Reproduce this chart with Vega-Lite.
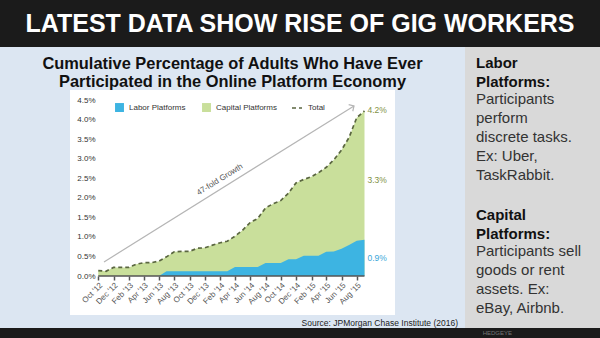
{
  "$schema": "https://vega.github.io/schema/vega-lite/v6.json",
  "background": "#dce6f2",
  "padding": 0,
  "spacing": 0,
  "config": {
    "view": {"stroke": null},
    "font": "Liberation Sans",
    "concat": {"spacing": 0},
    "axis": {"labelOverlap": false},
    "title": {"font": "Liberation Sans", "subtitleFont": "Liberation Sans"}
  },
  "datasets": {
    "platform": [
      {"month": "2012/10/01", "labor": 0, "total": 0.14},
      {"month": "2012/11/01", "labor": 0, "total": 0.12},
      {"month": "2012/12/01", "labor": 0, "total": 0.22},
      {"month": "2013/01/01", "labor": 0, "total": 0.22},
      {"month": "2013/02/01", "labor": 0, "total": 0.22},
      {"month": "2013/03/01", "labor": 0, "total": 0.30},
      {"month": "2013/04/01", "labor": 0, "total": 0.34},
      {"month": "2013/05/01", "labor": 0, "total": 0.34},
      {"month": "2013/06/01", "labor": 0, "total": 0.38},
      {"month": "2013/07/01", "labor": 0.12, "total": 0.49},
      {"month": "2013/08/01", "labor": 0.12, "total": 0.62},
      {"month": "2013/09/01", "labor": 0.12, "total": 0.63},
      {"month": "2013/10/01", "labor": 0.12, "total": 0.63},
      {"month": "2013/11/01", "labor": 0.12, "total": 0.71},
      {"month": "2013/12/01", "labor": 0.12, "total": 0.72},
      {"month": "2014/01/01", "labor": 0.12, "total": 0.79},
      {"month": "2014/02/01", "labor": 0.12, "total": 0.85},
      {"month": "2014/03/01", "labor": 0.12, "total": 0.89},
      {"month": "2014/04/01", "labor": 0.23, "total": 1.02},
      {"month": "2014/05/01", "labor": 0.23, "total": 1.17},
      {"month": "2014/06/01", "labor": 0.23, "total": 1.37},
      {"month": "2014/07/01", "labor": 0.23, "total": 1.47},
      {"month": "2014/08/01", "labor": 0.33, "total": 1.74},
      {"month": "2014/09/01", "labor": 0.33, "total": 1.85},
      {"month": "2014/10/01", "labor": 0.33, "total": 1.93},
      {"month": "2014/11/01", "labor": 0.43, "total": 2.12},
      {"month": "2014/12/01", "labor": 0.43, "total": 2.38},
      {"month": "2015/01/01", "labor": 0.52, "total": 2.47},
      {"month": "2015/02/01", "labor": 0.52, "total": 2.54},
      {"month": "2015/03/01", "labor": 0.52, "total": 2.64},
      {"month": "2015/04/01", "labor": 0.62, "total": 2.78},
      {"month": "2015/05/01", "labor": 0.63, "total": 2.97},
      {"month": "2015/06/01", "labor": 0.70, "total": 3.22},
      {"month": "2015/07/01", "labor": 0.79, "total": 3.54},
      {"month": "2015/08/01", "labor": 0.90, "total": 4.05},
      {"month": "2015/09/01", "labor": 0.93, "total": 4.22}
    ],
    "arrow": [
      {"from": "2012/10/24", "to": "2015/07/21", "low": 0.36, "high": 4.35}
    ],
    "arrowLabel": [
      {"month": "2014/01/31", "pct": 2.46, "text": "47-fold Growth"}
    ],
    "endLabels": [
      {"month": "2015/09/01", "pct": 4.25, "text": "4.2%", "group": "total"},
      {"month": "2015/09/01", "pct": 2.46, "text": "3.3%", "group": "capital"},
      {"month": "2015/09/01", "pct": 0.46, "text": "0.9%", "group": "labor"}
    ]
  },
  "vconcat": [
    {
      "width": 600,
      "height": 47,
      "view": {"fill": "#1b1b1b"},
      "data": {"values": [{"headline": "LATEST DATA SHOW RISE OF GIG WORKERS"}]},
      "mark": {"type": "text", "color": "#ffffff", "fontSize": 25, "fontWeight": "bold", "align": "center", "baseline": "middle"},
      "encoding": {"text": {"field": "headline"}}
    },
    {
      "spacing": 0,
      "hconcat": [
        {
          "spacing": 0,
          "center": true,
          "vconcat": [
            {
              "width": 465,
              "height": 43,
              "data": {"values": [{"heading": "Cumulative Percentage of Adults Who Have Ever\nParticipated in the Online Platform Economy"}]},
              "mark": {"type": "text", "fontSize": 16.4, "fontWeight": "bold", "color": "#111111", "lineHeight": 17.5, "lineBreak": "\n", "align": "center", "baseline": "middle", "dy": -4.5},
              "encoding": {"text": {"field": "heading"}}
            },
            {
              "width": 325,
              "height": 225,
              "view": {"fill": "#ffffff"},
              "layer": [
                {
                  "data": {"name": "platform"},
                  "mark": {"type": "area", "opacity": 1},
                  "encoding": {
                    "x": {
                      "field": "month", "type": "temporal", "title": null,
                      "scale": {"domain": [{"year": 2012, "month": 6, "date": 10}, {"year": 2016, "month": 1, "date": 1}]},
                      "axis": {
                        "orient": "bottom", "offset": -39, "format": "%b '%y", "labelAngle": -45, "tickCount": 40,
                        "values": [
                          {"year": 2012, "month": 10, "date": 1}, {"year": 2012, "month": 12, "date": 1},
                          {"year": 2013, "month": 2, "date": 1}, {"year": 2013, "month": 4, "date": 1},
                          {"year": 2013, "month": 6, "date": 1}, {"year": 2013, "month": 8, "date": 1},
                          {"year": 2013, "month": 10, "date": 1}, {"year": 2013, "month": 12, "date": 1},
                          {"year": 2014, "month": 2, "date": 1}, {"year": 2014, "month": 4, "date": 1},
                          {"year": 2014, "month": 6, "date": 1}, {"year": 2014, "month": 8, "date": 1},
                          {"year": 2014, "month": 10, "date": 1}, {"year": 2014, "month": 12, "date": 1},
                          {"year": 2015, "month": 2, "date": 1}, {"year": 2015, "month": 4, "date": 1},
                          {"year": 2015, "month": 6, "date": 1}, {"year": 2015, "month": 8, "date": 1}
                        ],
                        "domain": false, "grid": false, "ticks": true, "tickSize": 4, "tickColor": "#555555", "tickWidth": 1.5,
                        "labelFontSize": 8, "labelColor": "#555555", "labelPadding": 1,
                        "labelOverlap": false, "labelBound": false, "labelFlush": false
                      }
                    },
                    "y": {
                      "field": "total", "type": "quantitative", "title": null,
                      "scale": {"domain": [-0.997, 4.757], "nice": false, "zero": false},
                      "axis": {
                        "orient": "left", "offset": -27, "tickCount": 20, "values": [0, 0.5, 1, 1.5, 2, 2.5, 3, 3.5, 4, 4.5],
                        "labelExpr": "format(datum.value, '.1f') + '%'",
                        "domain": false, "ticks": false, "tickSize": 0, "grid": false,
                        "labelFontSize": 8, "labelColor": "#333333", "labelPadding": 2,
                        "labelOverlap": false, "labelBound": false, "labelFlush": false
                      }
                    },
                    "color": {
                      "datum": "Capital Platforms",
                      "scale": {"domain": ["Labor Platforms", "Capital Platforms"], "range": ["#3db4e2", "#c9df9b"]},
                      "legend": {
                        "orient": "none", "legendX": 114, "legendY": 102, "direction": "horizontal", "title": null,
                        "symbolType": "square", "symbolSize": 80, "symbolOpacity": 1, "labelFontSize": 8, "labelColor": "#333333",
                        "columnPadding": 15, "labelOffset": 4
                      }
                    }
                  }
                },
                {
                  "data": {"name": "platform"},
                  "mark": {"type": "area", "opacity": 1},
                  "encoding": {
                    "x": {"field": "month", "type": "temporal", "title": null},
                    "y": {"field": "labor", "type": "quantitative", "title": null},
                    "color": {"datum": "Labor Platforms"}
                  }
                },
                {
                  "data": {"name": "platform"},
                  "mark": {"type": "rule", "color": "#555555", "strokeWidth": 1.5},
                  "encoding": {
                    "x": {"aggregate": "min", "field": "month", "type": "temporal", "title": null},
                    "x2": {"aggregate": "max", "field": "month"},
                    "y": {"datum": 0}
                  }
                },
                {
                  "data": {"name": "platform"},
                  "mark": {"type": "line", "strokeWidth": 1.7, "color": "#5a6640"},
                  "encoding": {
                    "x": {"field": "month", "type": "temporal", "title": null},
                    "y": {"field": "total", "type": "quantitative", "title": null},
                    "strokeDash": {
                      "datum": "Total",
                      "scale": {"domain": ["Total"], "range": [[4, 3]]},
                      "legend": {
                        "orient": "none", "legendX": 291, "legendY": 102, "title": null,
                        "symbolType": "stroke", "symbolSize": 100, "symbolStrokeColor": "#5a6640", "symbolStrokeWidth": 1.6,
                        "labelFontSize": 8, "labelColor": "#333333", "labelOffset": 5
                      }
                    }
                  }
                },
                {
                  "data": {"name": "arrow"},
                  "mark": {"type": "rule", "color": "#b5b5b5", "strokeWidth": 1.2},
                  "encoding": {
                    "x": {"field": "from", "type": "temporal", "title": null},
                    "x2": {"field": "to"},
                    "y": {"field": "low", "type": "quantitative", "title": null},
                    "y2": {"field": "high"}
                  }
                },
                {
                  "data": {"name": "arrow"},
                  "mark": {"type": "point", "shape": "M-1,-1L0,0L-1,1", "filled": false, "stroke": "#b5b5b5", "strokeWidth": 1.2, "size": 60, "angle": 328, "opacity": 1},
                  "encoding": {
                    "x": {"field": "to", "type": "temporal", "title": null},
                    "y": {"field": "high", "type": "quantitative", "title": null}
                  }
                },
                {
                  "data": {"name": "arrowLabel"},
                  "mark": {"type": "text", "angle": 328, "fontSize": 8, "color": "#555555", "baseline": "middle", "align": "center"},
                  "encoding": {
                    "x": {"field": "month", "type": "temporal", "title": null},
                    "y": {"field": "pct", "type": "quantitative", "title": null},
                    "text": {"field": "text"}
                  }
                },
                {
                  "data": {"name": "endLabels"},
                  "transform": [{"filter": "datum.group !== 'labor'"}],
                  "mark": {"type": "text", "align": "left", "baseline": "middle", "dx": 3, "fontSize": 8.5, "color": "#7f9144"},
                  "encoding": {
                    "x": {"field": "month", "type": "temporal", "title": null},
                    "y": {"field": "pct", "type": "quantitative", "title": null},
                    "text": {"field": "text"}
                  }
                },
                {
                  "data": {"name": "endLabels"},
                  "transform": [{"filter": "datum.group === 'labor'"}],
                  "mark": {"type": "text", "align": "left", "baseline": "middle", "dx": 3, "fontSize": 8.5, "color": "#3aa7d9"},
                  "encoding": {
                    "x": {"field": "month", "type": "temporal", "title": null},
                    "y": {"field": "pct", "type": "quantitative", "title": null},
                    "text": {"field": "text"}
                  }
                }
              ]
            },
            {
              "width": 465,
              "height": 13,
              "data": {"values": []},
              "mark": "point",
              "title": {
                "text": "Source: JPMorgan Chase Institute (2016)",
                "anchor": "end", "frame": "group", "orient": "top", "offset": -12, "dx": -7,
                "fontSize": 8.5, "fontWeight": "normal", "color": "#222222"
              }
            }
          ]
        },
        {
          "spacing": 0,
          "vconcat": [
            {
              "width": 135,
              "height": 149,
              "view": {"fill": "#d9d9d9"},
              "data": {"values": []},
              "mark": "point",
              "title": {
                "text": ["Labor", "Platforms:"],
                "subtitle": ["Participants", "perform", "discrete tasks.", "Ex: Uber,", "TaskRabbit."],
                "anchor": "start", "frame": "group", "orient": "top", "offset": -136, "dx": 11,
                "fontSize": 15, "fontWeight": "bold", "color": "#111111", "lineHeight": 19,
                "subtitleFontSize": 15, "subtitleFontWeight": "normal", "subtitleColor": "#333333", "subtitleLineHeight": 19, "subtitlePadding": 2
              }
            },
            {
              "width": 135,
              "height": 132,
              "view": {"fill": "#d9d9d9"},
              "data": {"values": []},
              "mark": "point",
              "title": {
                "text": ["Capital", "Platforms:"],
                "subtitle": ["Participants sell", "goods or rent", "assets. Ex:", "eBay, Airbnb."],
                "anchor": "start", "frame": "group", "orient": "top", "offset": -120, "dx": 11,
                "fontSize": 15, "fontWeight": "bold", "color": "#111111", "lineHeight": 19,
                "subtitleFontSize": 15, "subtitleFontWeight": "normal", "subtitleColor": "#333333", "subtitleLineHeight": 19, "subtitlePadding": 2
              }
            }
          ]
        }
      ]
    },
    {
      "width": 600,
      "height": 10,
      "view": {"fill": "#1b1b1b"},
      "data": {"values": []},
      "mark": "point",
      "title": {
        "text": "HEDGEYE",
        "anchor": "end", "frame": "group", "orient": "top", "offset": -8, "dx": -88,
        "fontSize": 6, "fontWeight": "normal", "color": "#777777"
      }
    }
  ]
}
